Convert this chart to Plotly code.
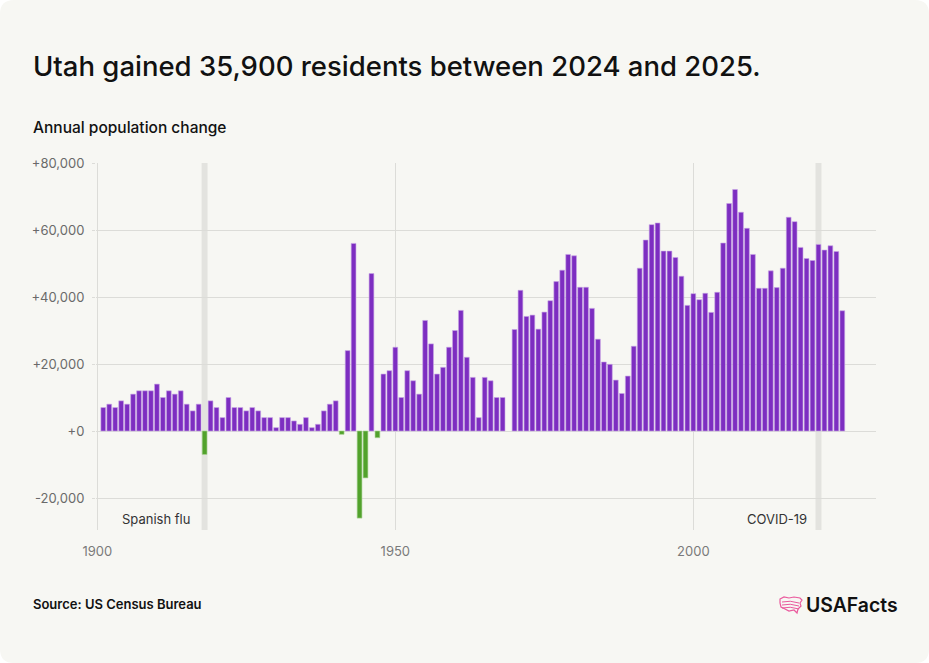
import plotly.graph_objects as go

# ---------------- data ----------------
years = list(range(1901, 2026))
changes = [
    7000, 8000, 7000, 9000, 8000, 11000, 12000, 12000, 12000, 14000,   # 1901-1910
    10000, 12000, 11000, 12000, 8000, 6000, 8000, -7000, 9000, 7000,   # 1911-1920
    4000, 10000, 7000, 7000, 6000, 7000, 6000, 4000, 4000, 1000,       # 1921-1930
    4000, 4000, 3000, 2000, 4000, 1000, 2000, 6000, 8000, 9000,        # 1931-1940
    -1000, 24000, 56000, -26000, -14000, 47000, -2000, 17000, 18000, 25000,  # 1941-1950
    10000, 18000, 15000, 11000, 33000, 26000, 17000, 19000, 25000, 30000,    # 1951-1960
    36000, 22000, 16000, 4000, 16000, 15000, 10000, 10000, None, 30300,      # 1961-1970
    42000, 34200, 34600, 30400, 35500, 38900, 44600, 48000, 52700, 52300,    # 1971-1980
    42900, 42900, 36600, 27400, 20600, 19900, 15200, 11200, 16400, 25300,    # 1981-1990
    48600, 57000, 61600, 62100, 53700, 53700, 51800, 46200, 37500, 41000,    # 1991-2000
    39200, 41100, 35400, 41400, 56100, 67900, 72100, 65300, 60500, 52700,    # 2001-2010
    42600, 42600, 47800, 42800, 48600, 63800, 62500, 54800, 51500, 50900,    # 2011-2020
    55700, 54000, 55300, 53600, 35900,                                       # 2021-2025
]
y_tickvals = [-20000, 0, 20000, 40000, 60000, 80000]
y_ticktext = ["-20,000", "+0", "+20,000", "+40,000", "+60,000", "+80,000"]
x_tickvals = [1900, 1950, 2000]
event_labels = ["Spanish flu", "COVID-19"]
event_years = [1918, 2021]

# ---------------- style ----------------
W, H = 929, 663
ML, MR, MT, MB = 96, 53, 163, 133
PW, PH = W - ML - MR, H - MT - MB
OUTER_BG = "#ffffff"
CARD_BG = "#f7f7f3"
PURPLE = "#7d2ec1"
PURPLE_EDGE = "#c7a5e6"
GREEN = "#52a22c"
GREEN_EDGE = "#a9d394"
GRID = "#dcdcd8"
BAND = "#e3e3df"
FONT = "Inter"


def px(x):
    return (x - ML) / PW


def py(y):
    return (H - MB - y) / PH


colors = [PURPLE if (v is None or v >= 0) else GREEN for v in changes]
edges = [PURPLE_EDGE if (v is None or v >= 0) else GREEN_EDGE for v in changes]

fig = go.Figure()
fig.add_trace(go.Bar(
    x=years, y=changes,
    width=0.8,
    marker=dict(color=colors, line=dict(color=edges, width=0.6)),
    hoverinfo="x+y",
))

shapes = []
# card background with rounded corners (figure pixel coords -> paper)
r = 14
x0, x1, y0, y1 = 0, W, 0, H
path = (
    f"M {px(x0 + r)},{py(y0)} L {px(x1 - r)},{py(y0)} "
    f"Q {px(x1)},{py(y0)} {px(x1)},{py(y0 + r)} "
    f"L {px(x1)},{py(y1 - r)} Q {px(x1)},{py(y1)} {px(x1 - r)},{py(y1)} "
    f"L {px(x0 + r)},{py(y1)} Q {px(x0)},{py(y1)} {px(x0)},{py(y1 - r)} "
    f"L {px(x0)},{py(y0 + r)} Q {px(x0)},{py(y0)} {px(x0 + r)},{py(y0)} Z"
)
shapes.append(dict(type="path", path=path, xref="paper", yref="paper",
                   fillcolor=CARD_BG, line=dict(width=0), layer="below"))
# event bands
for yr in event_years:
    shapes.append(dict(type="rect", xref="x", yref="paper", x0=yr - 0.5, x1=yr + 0.5,
                       y0=0, y1=1, fillcolor=BAND, line=dict(width=0), layer="below"))

# USAFacts logo icon (simplified US outline)
ix, iy = 780, 597
pts = [(0, 2), (4, 0), (9, 1), (14, 0), (20, 1), (22, 3), (20, 6), (21, 9),
       (18, 12), (17, 16), (14, 13), (9, 14), (5, 12), (1, 10), (0, 6)]
icon = "M " + " L ".join(f"{px(ix + a)},{py(iy + b)}" for a, b in pts) + " Z"
shapes.append(dict(type="path", path=icon, xref="paper", yref="paper",
                   line=dict(color="#ea5a9d", width=1.2), fillcolor="rgba(0,0,0,0)"))
for k in range(3):
    yy = iy + 5 + k * 3
    shapes.append(dict(type="path", xref="paper", yref="paper",
                       path=f"M {px(ix + 2)},{py(yy)} Q {px(ix + 10)},{py(yy - 2)} {px(ix + 19)},{py(yy + 1)}",
                       line=dict(color="#ea5a9d", width=1), fillcolor="rgba(0,0,0,0)"))

annotations = [
    dict(text="Utah gained 35,900 residents between 2024 and 2025.", x=px(30.5), y=py(66),
         xref="paper", yref="paper", xanchor="left", yanchor="middle", showarrow=False,
         font=dict(family=FONT, size=27.5, color="#111111", weight=500)),
    dict(text="Annual population change", x=px(30.5), y=py(127),
         xref="paper", yref="paper", xanchor="left", yanchor="middle", showarrow=False,
         font=dict(family=FONT, size=15.5, color="#111111", weight=500)),
    dict(text="Source: US Census Bureau", x=px(30.5), y=py(604),
         xref="paper", yref="paper", xanchor="left", yanchor="middle", showarrow=False,
         font=dict(family=FONT, size=13, color="#111111", weight=600)),
    dict(text="USAFacts", x=px(804), y=py(605),
         xref="paper", yref="paper", xanchor="left", yanchor="middle", showarrow=False,
         font=dict(family=FONT, size=19.4, color="#111111", weight=600)),
    dict(text=event_labels[0], x=px(156), y=py(519),
         xref="paper", yref="paper", xanchor="center", yanchor="middle", showarrow=False,
         font=dict(family=FONT, size=13, color="#333333")),
    dict(text=event_labels[1], x=px(777), y=py(519),
         xref="paper", yref="paper", xanchor="center", yanchor="middle", showarrow=False,
         font=dict(family=FONT, size=13, color="#333333")),
]

fig.update_layout(
    width=W, height=H,
    margin=dict(l=ML, r=MR, t=MT, b=MB, pad=0),
    paper_bgcolor=OUTER_BG,
    plot_bgcolor="rgba(0,0,0,0)",
    showlegend=False,
    bargap=0.2,
    shapes=shapes,
    annotations=annotations,
    font=dict(family=FONT, color="#777777"),
)
fig.update_xaxes(
    range=[1899.78, 2030.65],
    tickvals=x_tickvals,
    showgrid=True, gridcolor=GRID, gridwidth=1,
    zeroline=False, showline=False,
    ticks="", tickfont=dict(size=13, color="#7a7a7a", family=FONT),
    ticklabelstandoff=12,
)
fig.update_yaxes(
    range=[-29552, 80000],
    tickvals=y_tickvals, ticktext=y_ticktext,
    showgrid=True, gridcolor=GRID, gridwidth=1,
    zeroline=True, zerolinecolor=GRID, zerolinewidth=1,
    showline=False,
    ticks="outside", ticklen=3, tickcolor=GRID,
    tickfont=dict(size=13, color="#6a6a6a", family=FONT),
    ticklabelstandoff=5,
)

fig.write_html("out.html")
